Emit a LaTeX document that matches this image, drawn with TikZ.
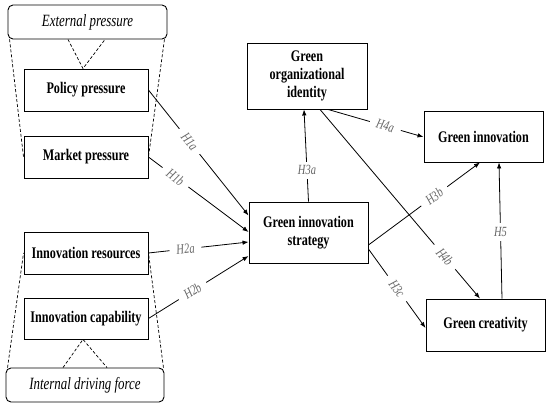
\documentclass[tikz,border=0pt]{standalone}
\usepackage{fontspec}
\setmainfont{Liberation Serif}[FakeStretch=0.75]
\usetikzlibrary{arrows.meta}
\tikzset{
  box/.style={draw, line width=0.9pt, align=center, font=\fontsize{16.2}{18}\selectfont\bfseries, inner sep=1pt},
  grp/.style={draw, line width=0.9pt, rounded corners=5pt, font=\fontsize{17.2}{18}\selectfont\itshape, inner sep=1pt},
  dsh/.style={dashed, line width=0.7pt, dash pattern=on 3pt off 2pt},
  con/.style={line width=0.8pt, -{Latex[length=6pt,width=4.5pt]}},
  lab/.style={fill=white, text=black!60, font=\fontsize{14}{15}\selectfont\itshape, inner xsep=7pt, inner ysep=1pt, sloped},
  labh/.style={fill=white, text=black!60, font=\fontsize{14}{15}\selectfont\itshape, inner sep=4pt}
}
\begin{document}
\begin{tikzpicture}[x=1pt,y=-1pt]
\useasboundingbox (0,0) rectangle (550,407);
\node[grp, minimum width=159pt, minimum height=34pt] (ext) at (87.5,22) {External pressure};
\node[box, minimum width=124pt, minimum height=42pt] (pp) at (86,90) {Policy pressure};
\node[box, minimum width=124pt, minimum height=42pt] (mp) at (86,157) {Market pressure};
\node[box, minimum width=124pt, minimum height=42pt] (ir) at (86,253) {Innovation resources};
\node[box, minimum width=124pt, minimum height=41pt] (ic) at (86,318.5) {Innovation capability};
\node[grp, minimum width=158pt, minimum height=34pt] (idf) at (85,385) {Internal driving force};
\node[box, minimum width=119pt, minimum height=61pt] (gis) at (308.5,232.5) {Green innovation\\strategy};
\node[box, minimum width=120pt, minimum height=66pt] (goi) at (307,76) {Green\\organizational\\identity};
\node[box, minimum width=119pt, minimum height=51pt] (gi) at (483.5,136.5) {Green innovation};
\node[box, minimum width=119pt, minimum height=52pt] (gc) at (485.5,325) {Green creativity};

% dashed group lines
\draw[dsh] ([xshift=2pt]ext.south west) -- (mp.west);
\draw[dsh] ([xshift=-3pt]ext.south east) -- (mp.east);
\draw[dsh] ([xshift=-19.5pt]ext.south) -- ([xshift=-3pt]pp.north) -- ([xshift=17.5pt]ext.south);
\draw[dsh] ([xshift=2pt]idf.north west) -- (ir.west);
\draw[dsh] ([xshift=-1pt]idf.north east) -- (ir.east);
\draw[dsh] ([xshift=-22pt]idf.north) -- ([xshift=-3pt]ic.south) -- ([xshift=22pt]idf.north);

% connectors
\draw[con] (pp.east) -- node[lab, pos=0.41] {H1a} ([yshift=17pt]gis.west);
\draw[con] (mp.east) -- node[lab, pos=0.27] {H1b} ([yshift=0.5pt]gis.west);
\draw[con] (ir.east) -- node[lab, pos=0.37] {H2a} ([yshift=-9.5pt]gis.west);
\draw[con] (ic.east) -- node[lab, pos=0.44] {H2b} ([yshift=-23.5pt]gis.west);
\draw[con] (gis.north) -- node[labh, pos=0.34] {H3a} ([xshift=-3pt]goi.south);
\draw[con] ([xshift=21pt]goi.south) -- node[lab, pos=0.6] {H4a} ([yshift=-0.5pt]gi.west);
\draw[con] ([xshift=13pt]goi.south) -- node[lab, pos=0.78] {H4b} ([xshift=-5.5pt]gc.north);
\draw[con] ([yshift=-12.5pt]gis.east) -- node[lab, pos=0.59] {H3b} ([xshift=-3.5pt]gi.south);
\draw[con] ([yshift=-16.5pt]gis.east) -- node[lab, pos=0.5] {H3c} ([yshift=-3pt]gc.west);
\draw[con] ([xshift=16.5pt]gc.north) -- node[labh, pos=0.49] {H5} ([xshift=15.5pt]gi.south);
\end{tikzpicture}
\end{document}
